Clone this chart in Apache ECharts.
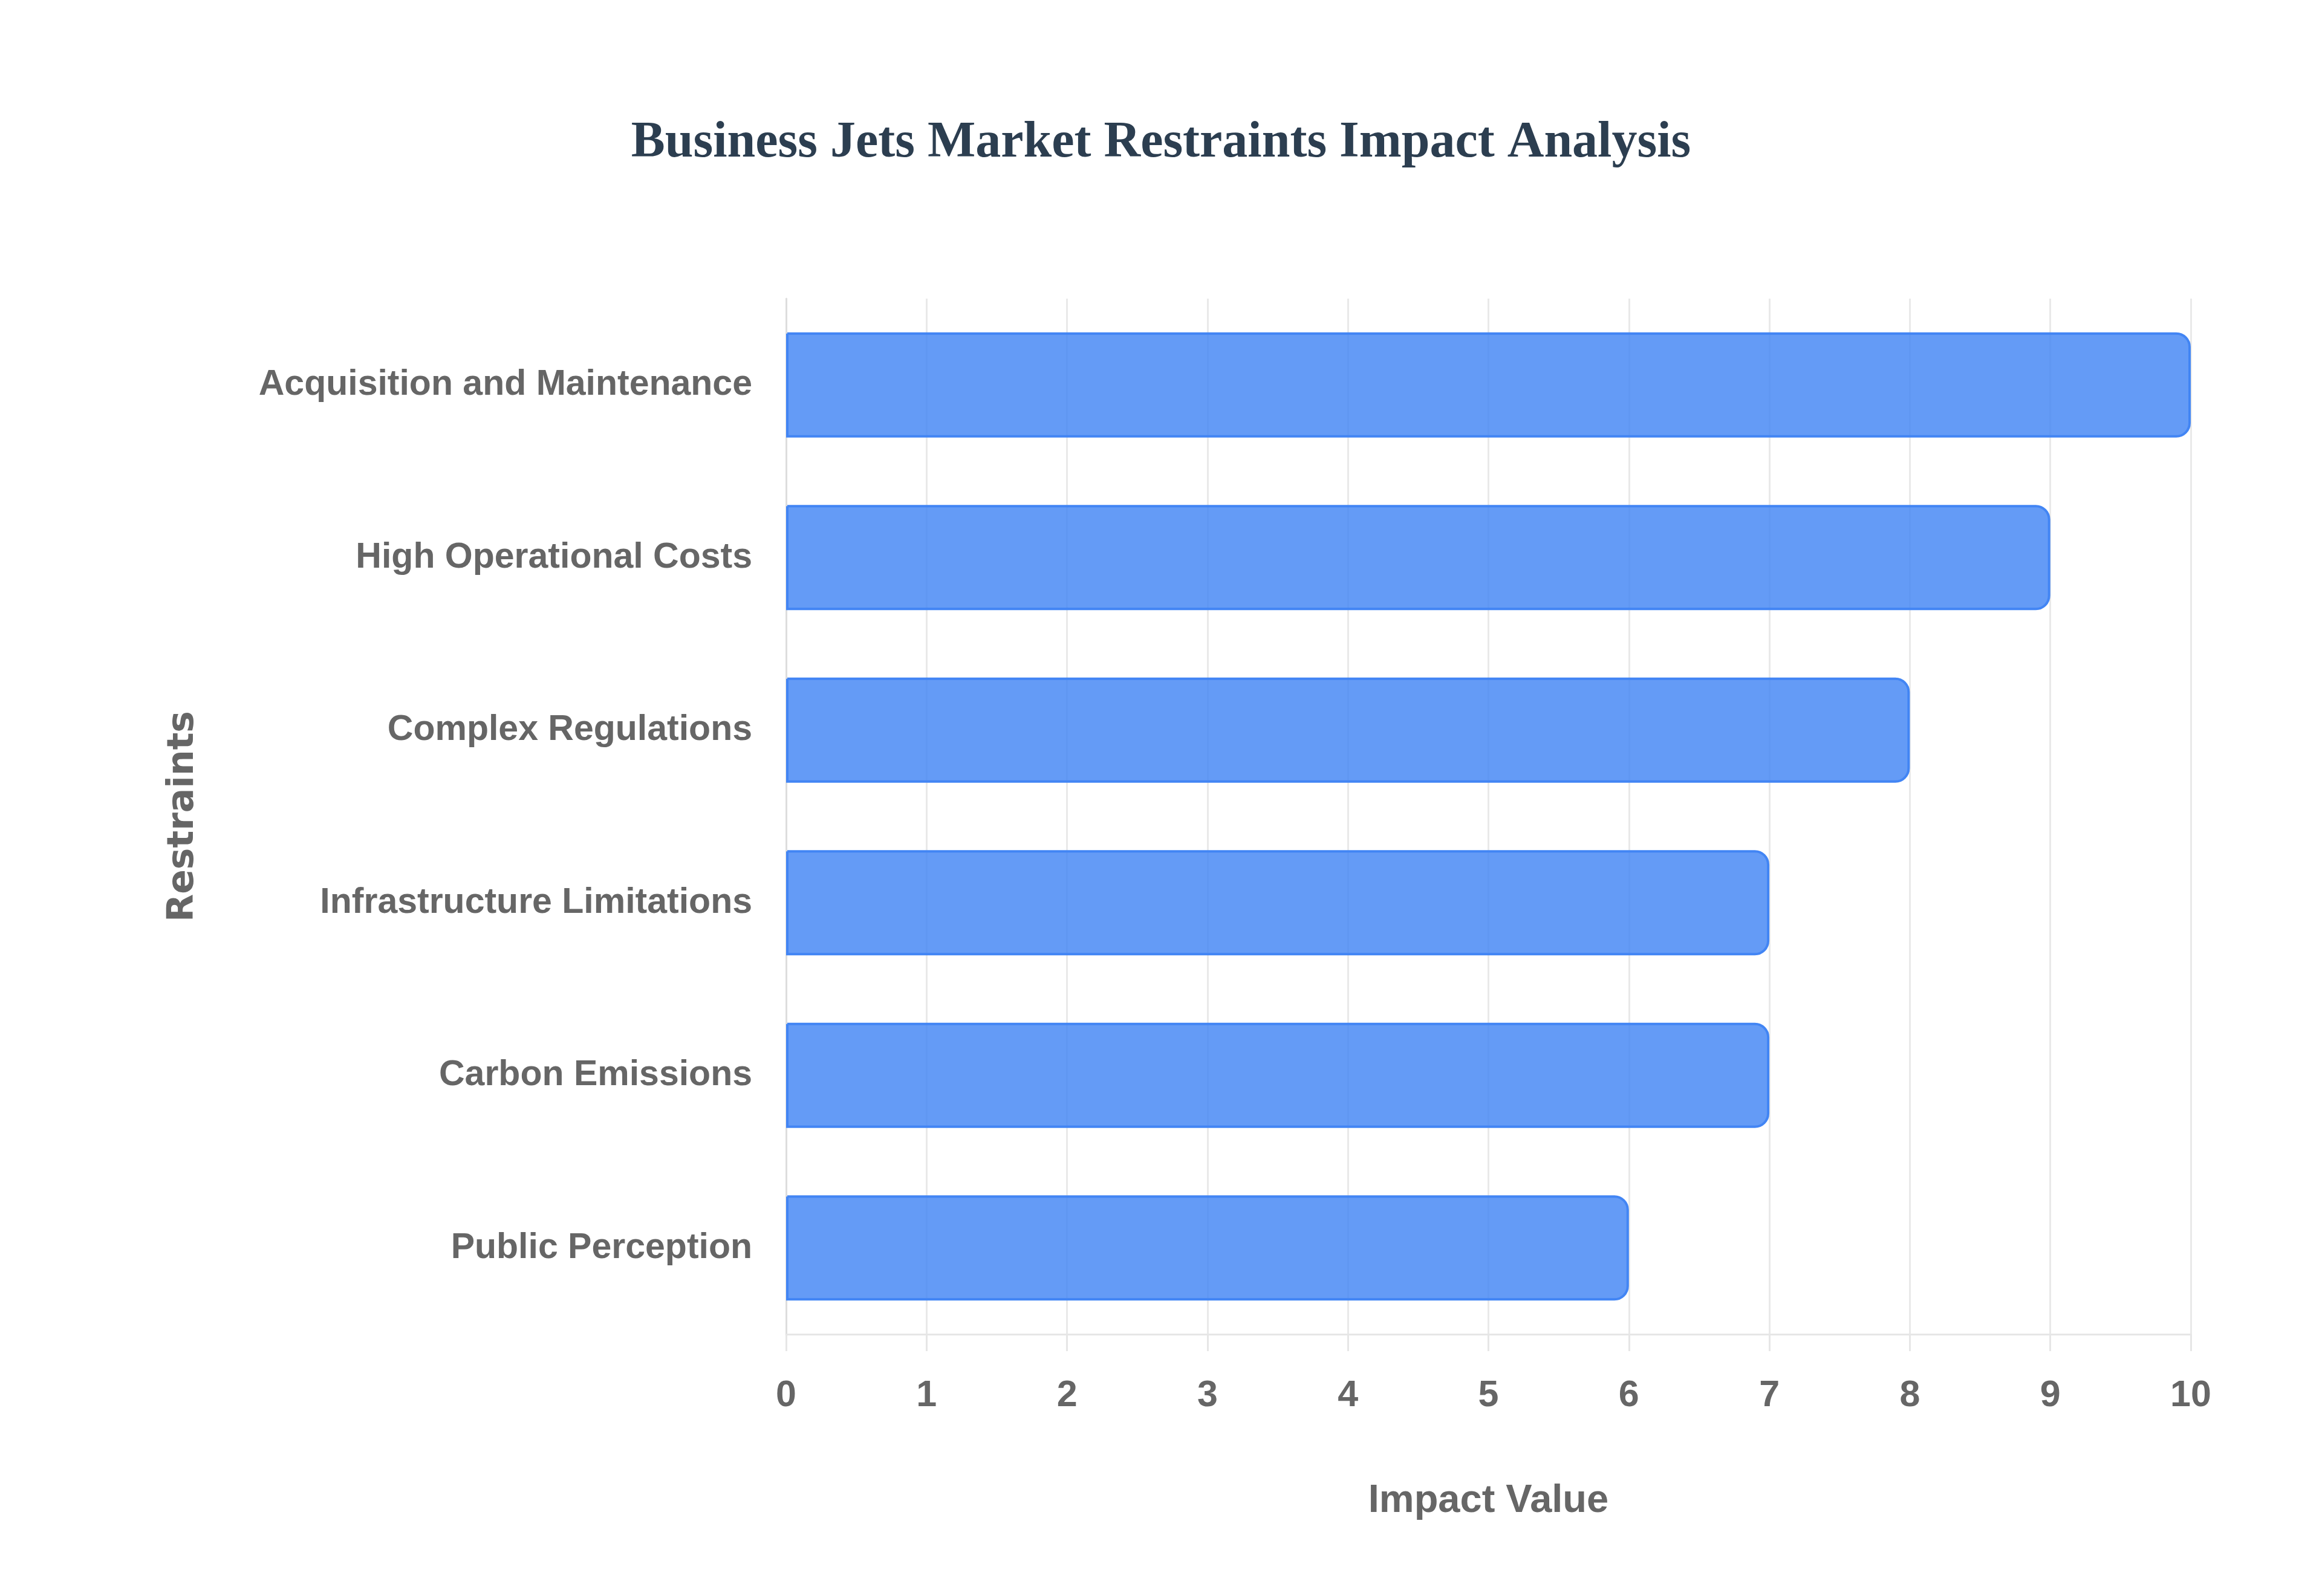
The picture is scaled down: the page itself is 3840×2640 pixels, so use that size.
<!DOCTYPE html>
<html><head><meta charset="utf-8">
<script src="https://cdn.jsdelivr.net/npm/echarts@6/dist/echarts.min.js"></script>
<style>html,body{margin:0;padding:0;background:#fff}#c{width:3840px;height:2640px}</style>
</head><body><div id="c"></div>
<script>
const categories = ["Acquisition and Maintenance","High Operational Costs","Complex Regulations","Infrastructure Limitations","Carbon Emissions","Public Perception"];
const impactValues = [10, 9, 8, 7, 7, 6];
const xTicks = {min: 0, max: 10, interval: 1};
const titleText = "Business Jets Market Restraints Impact Analysis";
const xName = "Impact Value";
const yName = "Restraints";

const chart = echarts.init(document.getElementById('c'));
chart.setOption({
  backgroundColor: '#ffffff',
  animation: false,
  title: {
    text: titleText, left: 'center', top: 190,
    textStyle: {fontFamily: 'Liberation Serif', fontWeight: 'bold', fontSize: 84, color: '#2c3e50'}
  },
  grid: {left: 1300, right: 217, top: 494, bottom: 433, containLabel: false},
  xAxis: {
    type: 'value', min: xTicks.min, max: xTicks.max, interval: xTicks.interval,
    name: xName, nameLocation: 'middle', nameGap: 244,
    nameTextStyle: {fontFamily: 'Liberation Sans', fontWeight: 'bold', fontSize: 65, color: '#666666'},
    axisLine: {show: true, lineStyle: {color: '#e6e6e6', width: 3}},
    axisTick: {show: true, length: 28, lineStyle: {color: '#e6e6e6', width: 3}},
    axisLabel: {margin: 72, fontFamily: 'Liberation Sans', fontWeight: 'bold', fontSize: 61, color: '#666666'},
    splitLine: {show: true, lineStyle: {color: '#e9e9e9', width: 3}}
  },
  yAxis: {
    type: 'category', data: categories, inverse: true,
    name: yName, nameLocation: 'middle', nameGap: 967,
    nameTextStyle: {fontFamily: 'DejaVu Sans', fontWeight: 'bold', fontSize: 60, color: '#666666'},
    axisLine: {show: true, lineStyle: {color: '#dddddd', width: 3}},
    axisTick: {show: false},
    axisLabel: {margin: 56, fontFamily: 'Liberation Sans', fontWeight: 'bold', fontSize: 59, color: '#666666'},
    splitLine: {show: false}
  },
  series: [{
    type: 'bar', data: impactValues, barWidth: 174,
    itemStyle: {color: 'rgba(66,133,244,0.82)', borderColor: '#4285f4', borderWidth: 4, borderRadius: [0, 22, 22, 0]}
  }]
});
</script></body></html>
